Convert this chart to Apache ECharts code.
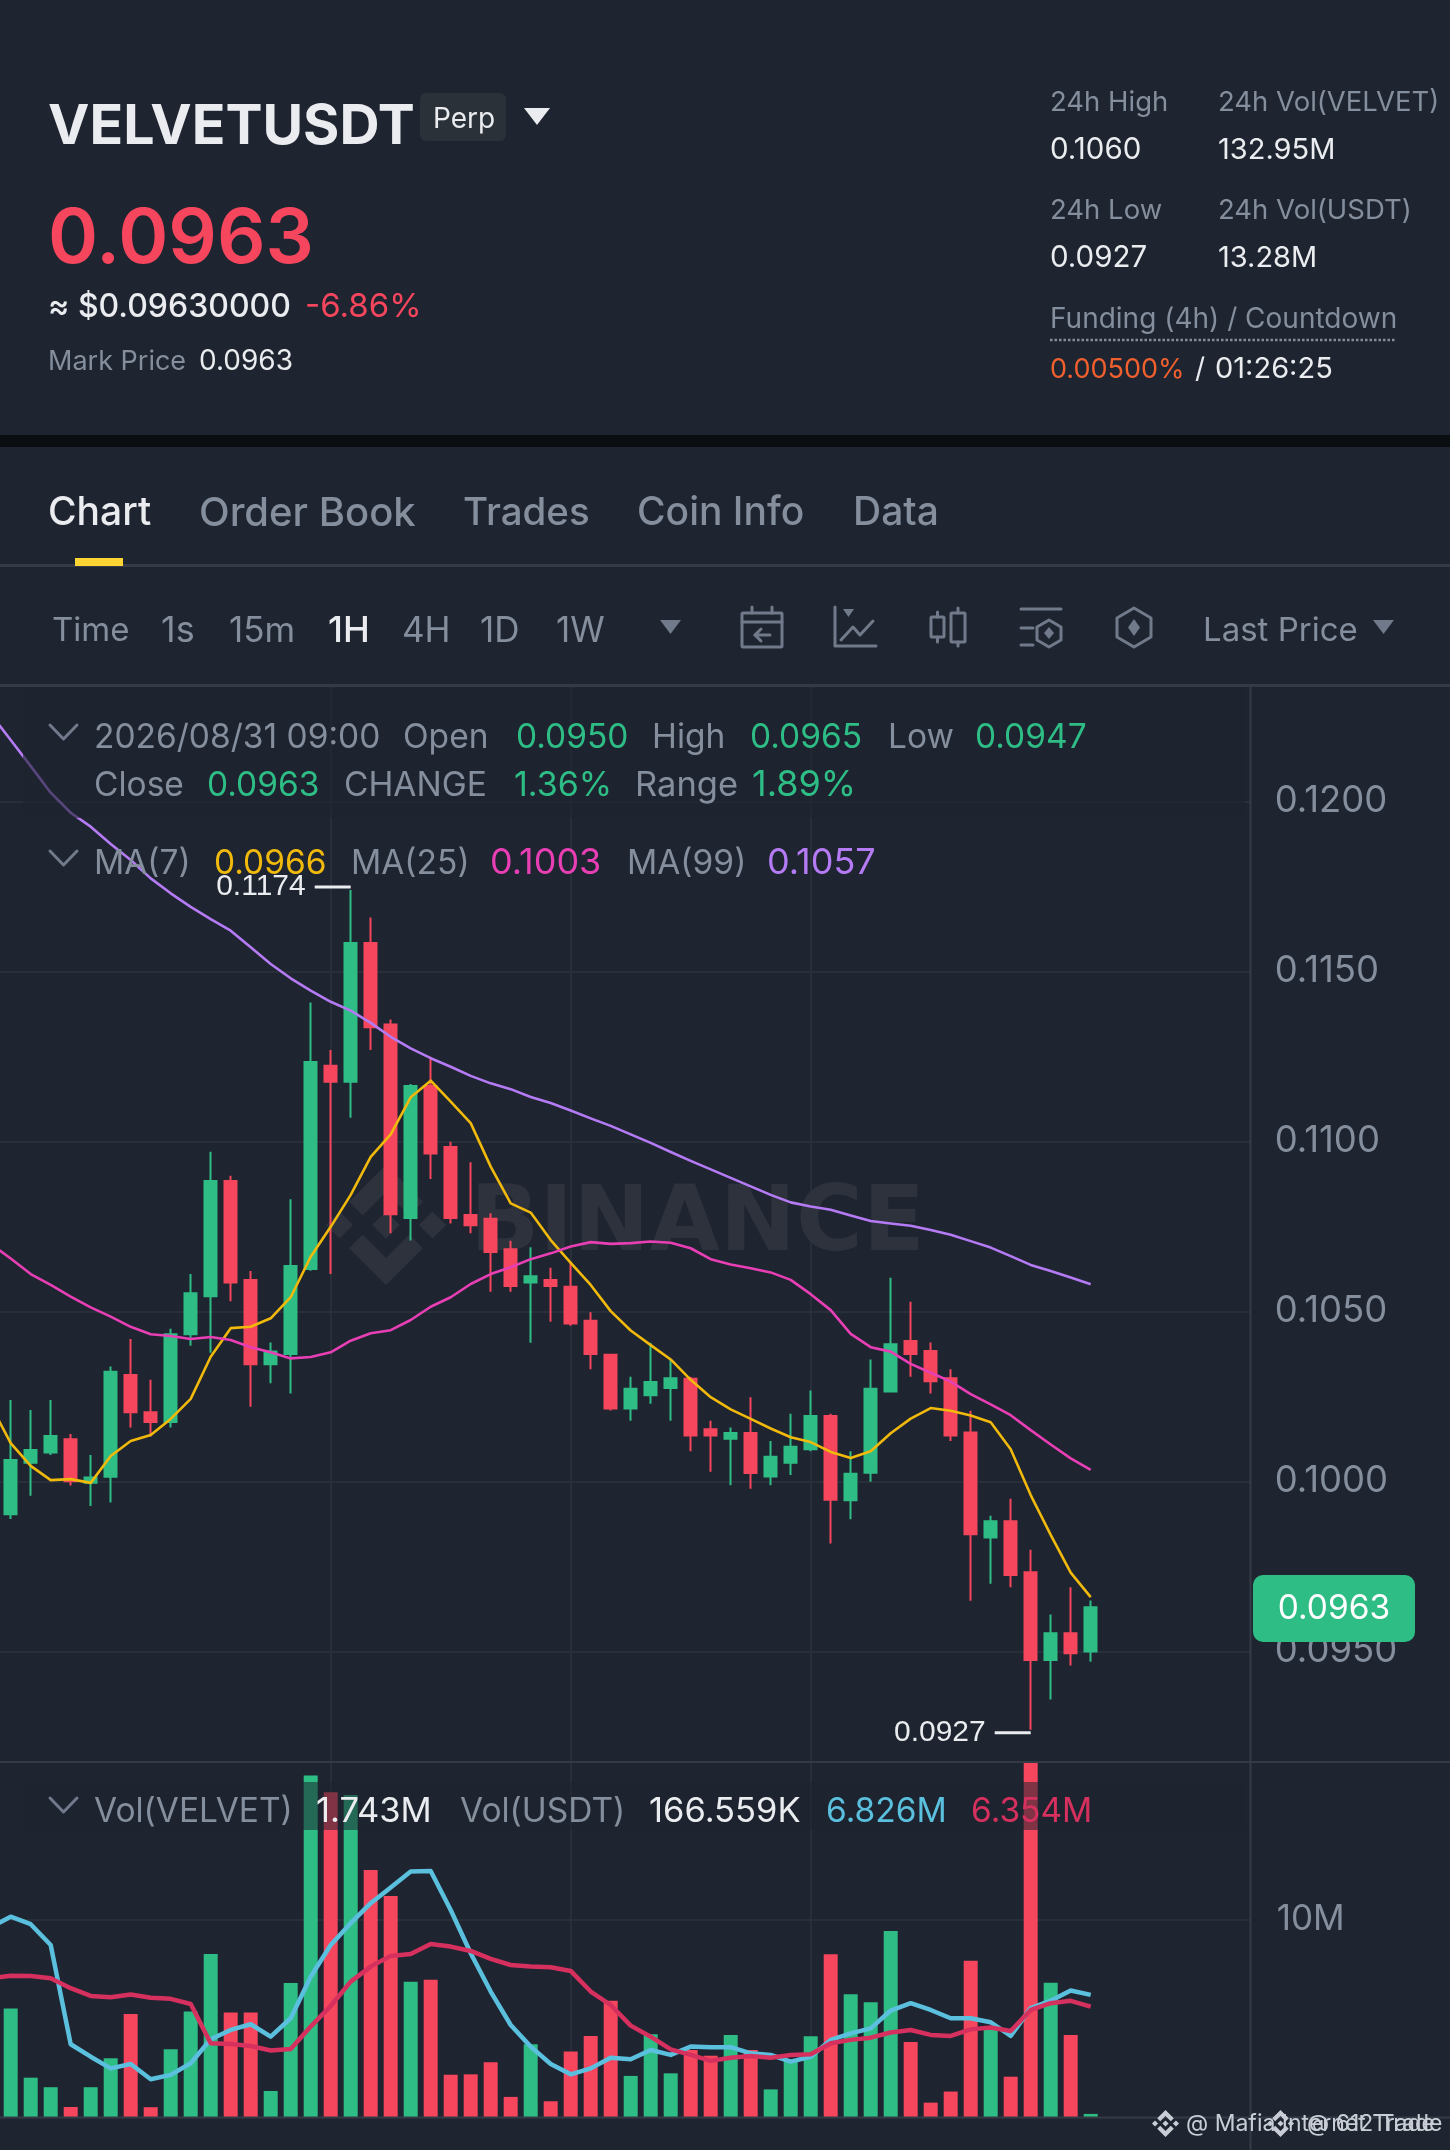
<!DOCTYPE html>
<html><head><meta charset="utf-8"><style>html,body{margin:0;padding:0;background:#1E2430;overflow:hidden;width:1450px;height:2150px}#c{position:absolute;left:-40px;top:0;width:1490px;height:2150px}</style>
<script src="https://cdn.jsdelivr.net/npm/echarts@6/dist/echarts.min.js"></script></head>
<body><div id="c"></div>
<script>
// ---- data ----
const opens=[.09904,.10055,.10085,.10124,.09996,.10014,.10313,.10204,.10175,.10433,.10545,.10884,.10593,.10345,.10375,.10625,.11223,.11176,.11584,.11344,.10775,.11163,.10984,.10784,.10773,.10683,.10585,.10593,.10573,.10473,.10373,.10215,.10254,.10275,.10302,.10154,.10126,.10143,.10015,.10055,.10095,.10193,.09945,.10026,.10265,.10413,.10384,.10304,.10144,.09835,.09883,.09733,.09475,.09554,.0950];
const closes=[.10063,.10093,.10134,.10001,.10012,.10323,.10204,.10175,.10433,.10554,.10884,.10585,.10345,.10382,.10634,.11234,.11176,.11584,.11336,.10786,.11163,.10965,.10775,.10754,.10675,.10575,.10604,.10575,.10465,.10375,.10215,.10273,.10293,.10304,.10135,.10135,.10143,.10025,.10073,.10102,.10193,.09946,.10023,.10273,.10404,.10375,.10295,.10135,.09845,.09883,.09725,.09475,.09554,.09495,.0963];
const lows=[.09890,.09958,.10078,.09988,.09928,.09938,.10159,.10132,.10159,.10399,.10379,.10530,.10220,.10289,.10259,.10620,.10610,.11070,.11269,.10730,.10709,.10890,.10759,.10730,.10558,.10558,.10408,.10470,.10458,.10330,.10209,.10179,.10229,.10179,.10089,.10029,.09989,.09979,.09989,.10019,.10089,.09818,.09889,.09999,.10265,.10308,.10259,.10119,.09649,.09699,.09689,.09270,.09359,.09459,.0947];
const highs=[.10240,.10210,.10240,.10140,.10078,.10338,.10419,.10299,.10449,.10610,.10970,.10899,.10619,.10409,.10830,.11409,.11269,.11740,.11659,.11359,.11169,.11249,.10999,.10939,.10789,.10708,.10689,.10629,.10646,.10498,.10373,.10308,.10408,.10357,.10308,.10179,.10159,.10248,.10119,.10199,.10268,.10199,.10089,.10359,.10599,.10529,.10409,.10330,.10208,.09899,.09949,.09799,.09609,.09689,.0965];
// moving averages start one candle left of the visible window
const ma7=[.10225,.10113,.10046,.10004,.10007,.09996,.10075,.10119,.10137,.10184,.10243,.10367,.10451,.10455,.10480,.10542,.10661,.10749,.10843,.10955,.11021,.11130,.11179,.11117,.11054,.10926,.10818,.10791,.10710,.10643,.10578,.10501,.10444,.10401,.10359,.10299,.10248,.10212,.10184,.10156,.10130,.10116,.10087,.10069,.10089,.10142,.10185,.10216,.10208,.10194,.10174,.10095,.09960,.09843,.09732,.0966];
const ma25=[.10699,.10656,.10610,.10578,.10544,.10512,.10485,.10455,.10433,.10428,.10419,.10425,.10416,.10395,.10380,.10362,.10366,.10380,.10414,.10436,.10445,.10475,.10514,.10542,.10581,.10610,.10630,.10654,.10671,.10691,.10704,.10699,.10701,.10706,.10702,.10686,.10654,.10638,.10627,.10615,.10593,.10551,.10504,.10434,.10395,.10382,.10346,.10320,.10294,.10257,.10227,.10195,.10151,.10109,.10068,.10034];
const ma99=[.12257,.12181,.12104,.12026,.11967,.11926,.11875,.11828,.11774,.11730,.11690,.11654,.11620,.11571,.11522,.11480,.11444,.11411,.11385,.11349,.11308,.11274,.11245,.11220,.11193,.11171,.11154,.11131,.11113,.11091,.11068,.11046,.11021,.10996,.10969,.10943,.10918,.10893,.10868,.10843,.10821,.10809,.10799,.10782,.10766,.10759,.10752,.10740,.10726,.10707,.10688,.10663,.10637,.10619,.10600,.10580];
const volumes=[5.49,2.00,1.52,0.52,1.52,2.98,5.22,0.51,3.43,5.34,8.25,5.29,5.29,1.33,6.78,17.26,16.41,16.28,12.49,11.18,6.84,6.94,2.15,2.17,2.78,1.03,3.69,0.81,3.32,4.11,5.89,2.09,4.19,2.22,3.40,3.11,4.16,3.40,1.41,2.90,4.09,8.23,6.21,5.81,9.41,3.80,0.74,1.30,7.91,4.58,2.05,20,6.80,4.16,0.17];
const volMa5=[9.60,10.13,9.75,8.70,3.69,3.06,2.47,2.69,1.92,2.14,2.73,3.94,4.41,4.70,4.07,5.00,7.10,8.70,9.80,10.81,11.60,12.41,12.44,10.47,8.28,6.35,4.66,3.57,2.69,2.17,2.47,3.01,2.93,3.40,3.15,3.57,3.54,3.54,3.23,3.15,2.81,3.06,3.91,4.24,4.49,5.39,5.76,5.42,5.00,5.00,4.80,4.11,5.51,5.89,6.40,6.18];
const volMa10=[7.02,7.15,7.14,7.02,6.52,6.13,6.06,6.20,6.04,5.98,5.72,3.74,3.70,3.60,3.37,3.45,4.58,5.62,6.85,7.61,8.15,8.25,8.75,8.62,8.40,8.00,7.69,7.61,7.58,7.39,6.35,5.67,4.63,4.07,3.43,3.15,2.85,3.01,3.10,3.01,3.15,3.18,3.74,3.91,4.02,4.28,4.41,4.16,4.11,4.44,4.53,4.36,5.42,5.76,5.88,5.59];
// one hidden slot before the first candle and eight empty slots after the last one
const categories=Array.from({length:64},(_,i)=>'h'+i);
const tabLabels=['Chart','Order Book','Trades','Coin Info','Data'];
const intervalLabels=['Time','1s','15m','1H','4H','1D','1W'];
const priceLabels=['0.0963'];

const GREEN='#2EBD85',RED='#F6465D',GREY='#848E9C',WHITE='#EAECEF',BG='#1E2430',GRID='#292F3A',AXIS='#343B47',ICON='#707A8A';
const FONT='Inter';
const EMPTY=['-','-','-','-'];
const candleData=[EMPTY].concat(opens.map((o,i)=>[o,closes[i],lows[i],highs[i]]));
const volData=['-'].concat(volumes);
const pad=(a,e)=>a.concat(new Array(64-a.length).fill(e===undefined?'-':e));
const OX=40; // the canvas sits OX px left of the page so the plot can start off-screen

function T(text,x,y,size,fill,weight,o){return Object.assign({type:'text',x,y:y+2.5,z:100,silent:true,style:{text,fill,fontSize:size,fontFamily:FONT,fontWeight:weight||400,textAlign:'left',textVerticalAlign:'middle'}},o||{});}
function R(x,y,w,h,fill,r,z){return {type:'rect',z:z||100,silent:true,shape:{x,y,width:w,height:h,r:r||0},style:{fill}};}
function PL(points,stroke,lw,z){return {type:'polyline',z:z||100,silent:true,shape:{points},style:{stroke:stroke||ICON,fill:null,lineWidth:lw||3,lineCap:'round',lineJoin:'round'}};}
function PG(points,fill,z){return {type:'polygon',z:z||100,silent:true,shape:{points},style:{fill:fill||ICON}};}
function BOX(x,y,w,h,stroke){return {type:'rect',z:100,silent:true,shape:{x,y,width:w,height:h,r:1},style:{fill:null,stroke:stroke||ICON,lineWidth:3}};}
const LOGO=[[[63.3,0],[102.2,38.9],[87.9,53.2],[63.3,28.6],[38.7,53.2],[24.4,38.9]],[[0,63.3],[14.3,49],[28.6,63.3],[14.3,77.6]],[[98,63.3],[112.3,49],[126.6,63.3],[112.3,77.6]],[[63.3,48.8],[77.8,63.3],[63.3,77.8],[48.8,63.3]],[[38.7,73.4],[63.3,98],[87.9,73.4],[102.2,87.7],[63.3,126.6],[24.4,87.7]]];
function logo(x,y,s,fill,z){const k=s/126.6;return LOGO.map(p=>PG(p.map(q=>[x+q[0]*k,y+q[1]*k]),fill,z));}
const chev=(x,y)=>PL([[x,y],[x+13.5,y+14],[x+27,y]]);
const LS=33.5;

const chrome=[
 // page bands
 R(0,435,1450,12,'#0B0E11',0,90),
 R(0,564,1450,3,AXIS,0,90), R(75,558,48,8,'#FCD535',0,91),
 R(0,684,1450,3,AXIS,0,90), R(0,1761,1450,2,AXIS,0,90), R(0,2116.5,1450,2,AXIS,0,90), R(1249.5,685,2,1465,AXIS,0,90),
 // watermark
 ...logo(326,1165,120,'#2E323D',1),
 {type:'text',x:470,y:1226,z:1,silent:true,style:{text:'BINANCE',fill:'#2E323D',fontSize:91,fontWeight:700,fontFamily:'DejaVu Sans',textVerticalAlign:'middle'}},
 // legend veils
 R(23,688,1222,130,'rgba(30,36,48,.62)',0,50), R(23,1782,1222,48,'rgba(30,36,48,.55)',0,50),
 // header left
 T('VELVETUSDT',48,125,55.5,WHITE,700),
 R(420,93,86,48,'#2B3139',6,95), T('Perp',433,117,28,WHITE,400),
 PG([[524,108],[550,108],[537,125]],WHITE),
 T('0.0963',48,238,76,RED,600),
 T('≈ $0.09630000',48,305,32,WHITE,500), T('-6.86%',305,305,33,RED,400),
 T('Mark Price',48,359,27,GREY,400), T('0.0963',199,359,28,WHITE,400),
 // header right
 T('24h High',1050,100,27.5,GREY), T('24h Vol(VELVET)',1218,100,27.5,GREY),
 T('0.1060',1050,148,29.5,WHITE), T('132.95M',1218,148,29,WHITE),
 T('24h Low',1050,208,27.5,GREY), T('24h Vol(USDT)',1218,208,27.5,GREY),
 T('0.0927',1050,256,29.5,WHITE), T('13.28M',1218,256,29,WHITE),
 T('Funding (4h) / Countdown',1050,317,28,GREY),
 {type:'line',z:100,silent:true,shape:{x1:1050,y1:340,x2:1396,y2:340},style:{stroke:GREY,lineWidth:2.5,lineDash:[2.5,2]}},
 T('0.00500%',1050,367,27,'#F0602E'), T('/',1195,367,28,WHITE), T('01:26:25',1215,367,29,WHITE),
 // tabs
 T(tabLabels[0],48,511,39,WHITE,500),T(tabLabels[1],199,511,40,GREY,500),T(tabLabels[2],463,511,38.5,GREY,500),T(tabLabels[3],637,511,39,GREY,500),T(tabLabels[4],853,511,39,GREY,500),
 // interval row
 T(intervalLabels[0],52,628.5,33,GREY),T(intervalLabels[1],161,628.5,36,GREY),T(intervalLabels[2],229,628.5,35,GREY),T(intervalLabels[3],328,628.5,36,WHITE,500),T(intervalLabels[4],402,628.5,35,GREY),T(intervalLabels[5],480,628.5,35,GREY),T(intervalLabels[6],556,628.5,35,GREY),
 PG([[660,620],[681,620],[670.5,634]]),
 // calendar
 BOX(742,613,40,34), PL([[742,622],[782,622]]), PL([[752,607],[752,613]]), PL([[772,607],[772,613]]), PL([[770,635],[755,635]]), PL([[761,629],[755,635],[761,641]]),
 // indicator
 PL([[835,607],[835,646],[876,646]]), PL([[841,640],[853,627],[860,635],[873,621]]), PG([[843,609],[854,609],[848.5,617]]),
 // candles
 BOX(931,617,13,20), PL([[937.5,612],[937.5,617]]), PL([[937.5,637],[937.5,642]]), BOX(951,613,14,29), PL([[958,608],[958,613]]), PL([[958,642],[958,646]]),
 // filter
 PL([[1021,609],[1061,609]]), PL([[1021,628],[1033,628]]), PL([[1021,645],[1033,645]]), PG([[1049,627],[1054,633],[1049,639],[1044,633]]),
 {type:'polygon',z:100,silent:true,shape:{points:[[1049,620],[1061,627],[1061,640],[1049,647],[1037,640],[1037,627]]},style:{fill:null,stroke:ICON,lineWidth:3,lineJoin:'round'}},
 // hexagon
 {type:'polygon',z:100,silent:true,shape:{points:[[1134,608],[1151,618],[1151,637],[1134,647],[1117,637],[1117,618]]},style:{fill:null,stroke:ICON,lineWidth:3,lineJoin:'round'}},
 PG([[1134,619],[1140,627.5],[1134,636],[1128,627.5]]),
 T('Last Price',1203,628.5,33,GREY), PG([[1373,620],[1394,620],[1383.5,634]]),
 // legend rows
 chev(50,725), T('2026/08/31 09:00',94,735,LS,GREY),
 T('Open',403,735,LS,GREY),T('0.0950',516,735,LS,GREEN),T('High',652,735,LS,GREY),T('0.0965',750,735,LS,GREEN),T('Low',888,735,LS,GREY),T('0.0947',975,735,LS,GREEN),
 T('Close',94,783,LS,GREY),T('0.0963',207,783,LS,GREEN),T('CHANGE',344,783,LS,GREY),T('1.36%',514,783,34,GREEN),T('Range',635,783,34.5,GREY),T('1.89%',752,783,36,GREEN),
 chev(50,851),
 T('MA(7)',94,861,LS,GREY),T('0.0966',214,861,LS,'#F0B90B'),T('MA(25)',351,861,LS,GREY),T('0.1003',490,861,36,'#E83FB5'),T('MA(99)',627,861,LS,GREY),T('0.1057',767,861,36,'#B57BF5'),
 chev(50,1798),
 T('Vol(VELVET)',94,1809,LS,GREY),T('1.743M',316,1809,34.5,WHITE),T('Vol(USDT)',460,1809,LS,GREY),T('166.559K',649,1809,34.5,WHITE),T('6.826M',826,1809,LS,'#5BC0DE'),T('6.354M',971,1809,LS,'#D6305E'),
 // last price tag
 R(1253,1575,162,67,GREEN,10,95), {type:'text',x:1334,y:1609,z:96,silent:true,style:{text:priceLabels[0],fill:'#fff',fontSize:33.5,fontFamily:FONT,textAlign:'center',textVerticalAlign:'middle'}},
 // share watermark
 ...logo(1152,2110,27,'#C9CED6',100), T('@ Mafia Internet Trade',1186,2122,23,'#C9CED6'),
 ...logo(1267,2110,27,'#C9CED6',100), T('@ 612 Trade',1307,2122,23,'#C9CED6'),
];

const vLine={show:true,interval:i=>i%12===5,lineStyle:{color:GRID,width:2},showMinLine:false,showMaxLine:false};
const hideX={axisLine:{show:false},axisTick:{show:false},axisLabel:{show:false}};
const line=(name,data,color,width,x,y,z)=>({name,type:'line',data:pad(data),xAxisIndex:x,yAxisIndex:y,showSymbol:false,symbol:'none',z:z||5,silent:true,connectNulls:false,lineStyle:{color,width,join:'round'},itemStyle:{color}});
const flag=(idx,price,text,dy)=>({coord:[categories[idx],price],symbol:'rect',symbolSize:[36,3],symbolOffset:[-18,dy],itemStyle:{color:WHITE},
  label:{show:true,formatter:text,position:'left',distance:9,color:WHITE,fontSize:30,fontFamily:'Liberation Sans'}});

const option={
 animation:false,backgroundColor:BG,
 graphic:{elements:[{type:'group',x:OX,y:0,children:chrome}]},
 grid:[
  {left:OX-9.3,width:1260,top:631.5,height:1190},
  {left:OX-9.3,width:1260,top:686,height:1076},
  {left:OX-9.3,width:1260,top:1762,height:355.3}
 ],
 xAxis:[
  Object.assign({type:'category',gridIndex:0,data:categories,boundaryGap:false,splitLine:{show:false}},hideX),
  Object.assign({type:'category',gridIndex:1,data:categories,boundaryGap:false,splitLine:vLine},hideX),
  Object.assign({type:'category',gridIndex:2,data:categories,boundaryGap:false,splitLine:vLine},hideX)
 ],
 yAxis:[
  {type:'value',gridIndex:0,position:'right',min:0.09,max:0.125,interval:0.005,scale:false,axisLine:{show:false},axisTick:{show:false},
   axisLabel:{margin:24,color:GREY,fontSize:36.5,fontFamily:FONT,showMinLabel:false,showMaxLabel:false,formatter:v=>v.toFixed(4)},
   splitLine:{show:true,lineStyle:{color:GRID,width:2},showMinLine:false,showMaxLine:false}},
  {type:'value',gridIndex:1,show:false,min:0,max:1,splitLine:{show:false}},
  {type:'value',gridIndex:2,position:'right',min:0,max:17.94,interval:10,axisLine:{show:false},axisTick:{show:false},
   axisLabel:{margin:26,color:GREY,fontSize:35,fontFamily:FONT,formatter:v=>v===10?'10M':''},
   splitLine:{show:true,lineStyle:{color:GRID,width:2},showMinLine:false,showMaxLine:false}}
 ],
 series:[
  {name:'Price',type:'candlestick',data:pad(candleData,EMPTY),xAxisIndex:0,yAxisIndex:0,barWidth:12,silent:true,z:3,
   itemStyle:{color:GREEN,color0:RED,borderColor:GREEN,borderColor0:RED,borderWidth:2},
   markPoint:{silent:true,z:6,data:[flag(18,0.1174,'0.1174',-3),flag(52,0.0927,'0.0927',3)]}},
  line('MA(7)',ma7,'#F0B90B',2.6,0,0),
  line('MA(25)',ma25,'#E83FB5',2.6,0,0),
  line('MA(99)',ma99,'#B57BF5',2.6,0,0),
  {name:'Vol',type:'bar',data:pad(volData),xAxisIndex:2,yAxisIndex:2,barWidth:14,silent:true,z:3,
   itemStyle:{color:p=>{const i=p.dataIndex-1;return i>=0&&i<closes.length&&closes[i]>opens[i]?GREEN:RED;}}},
  line('Vol MA5',volMa5,'#5BC0DE',4.5,2,2),
  line('Vol MA10',volMa10,'#D6305E',4.5,2,2)
 ]
};
const chart=echarts.init(document.getElementById('c'));
chart.setOption(option);
</script></body></html>
